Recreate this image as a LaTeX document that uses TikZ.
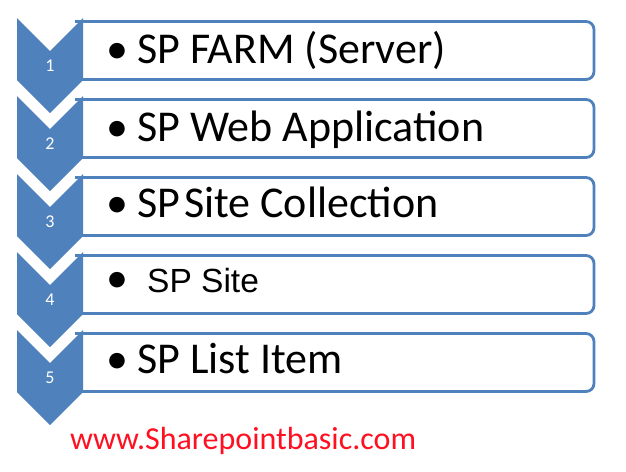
\documentclass[tikz,border=0pt]{standalone}
\usepackage{fontspec}
\setmainfont{Carlito}
\newfontfamily\arialfont{Liberation Sans}
\usepackage{color}

\begin{document}
\begin{tikzpicture}[x=1pt, y=-1pt]
\definecolor{chevblue}{HTML}{4F81BD}
\definecolor{urlred}{HTML}{FF1020}
\tikzset{
  itembox/.style={draw=chevblue, line width=2.8pt, fill=white, rounded corners=8pt},
  chevron/.style={fill=chevblue, draw=none},
  stepnum/.style={text=white, font=\fontsize{18}{20}\selectfont, inner sep=0pt},
  itemtext/.style={anchor=base west, inner sep=0pt, font=\fontsize{44}{50}\selectfont},
}
\useasboundingbox[fill=white] (0,0) rectangle (626,471);

% boxes
\draw[itembox] (75,21.5) -- (594,21.5) -- (594,79.5) -- (75,79.5);
\draw[itembox] (75,99.5) -- (594,99.5) -- (594,157.5) -- (75,157.5);
\draw[itembox] (75,177.5) -- (594,177.5) -- (594,235.5) -- (75,235.5);
\draw[itembox] (75,255.5) -- (594,255.5) -- (594,313.5) -- (75,313.5);
\draw[itembox] (75,333.5) -- (594,333.5) -- (594,391.5) -- (75,391.5);

% chevrons
\fill[chevron] (17,18) -- (50,51) -- (83,18) -- (83,80) -- (50,113) -- (17,80) -- cycle;
\fill[chevron] (17,96) -- (50,129) -- (83,96) -- (83,158) -- (50,191) -- (17,158) -- cycle;
\fill[chevron] (17,174) -- (50,207) -- (83,174) -- (83,236) -- (50,269) -- (17,236) -- cycle;
\fill[chevron] (17,252) -- (50,285) -- (83,252) -- (83,314) -- (50,347) -- (17,314) -- cycle;
\fill[chevron] (17,330) -- (50,363) -- (83,330) -- (83,392) -- (50,425) -- (17,392) -- cycle;

\node[stepnum] (n1) at (50,66) {1};
\node[stepnum] (n2) at (50,144) {2};
\node[stepnum] (n3) at (50,222) {3};
\node[stepnum] (n4) at (50,300) {4};
\node[stepnum] (n5) at (50,378) {5};

% item texts
\node[itemtext] (farm) at (137,63) {\llap{\textbullet\hskip 9pt}SP FARM (Server)};
\node[itemtext] (webapp) at (137,141) {\llap{\textbullet\hskip 9pt}SP Web Application};
\node[itemtext] (sitecoll) at (137,217) {\llap{\textbullet\hskip 9pt}SP\hskip 4pt Site Collection};
\node[itemtext] (site) at (147,292) {\llap{\textbullet\hskip 19pt}{\arialfont\fontsize{33.5}{38}\selectfont SP Site}};
\node[itemtext] (listitem) at (137,373) {\llap{\textbullet\hskip 9pt}SP List Item};

\node[anchor=base west, inner sep=0pt, text=urlred, font=\fontsize{32}{36}\selectfont] (url) at (70,449) {www.Sharepointbasic.com};

\end{tikzpicture}
\end{document}
